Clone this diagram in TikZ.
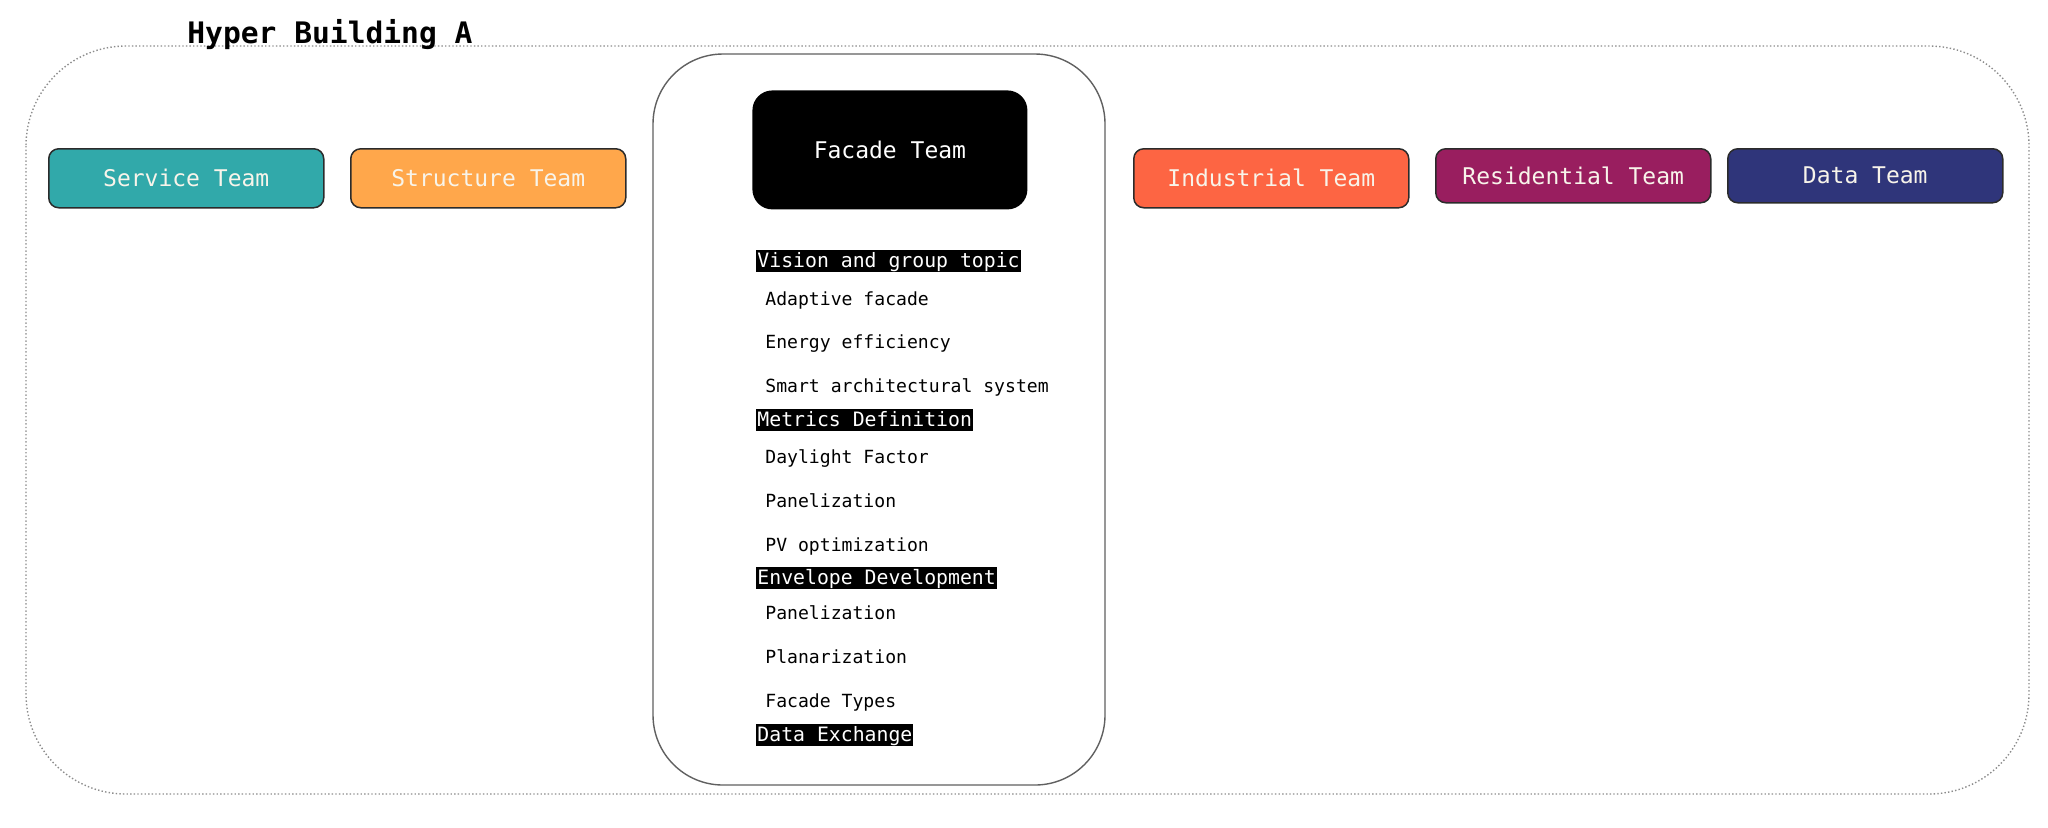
\documentclass[tikz,border=0pt]{standalone}
\usepackage{fontspec}
\newfontfamily\mono{DejaVu Sans Mono}
\definecolor{cService}{HTML}{31A9AA}
\definecolor{cStructure}{HTML}{FFA74B}
\definecolor{cIndustrial}{HTML}{FD6543}
\definecolor{cResidential}{HTML}{991E5F}
\definecolor{cData}{HTML}{2F357A}
\definecolor{cBoxText}{HTML}{F8F4EA}
\definecolor{cEdge}{HTML}{2B2B2B}
\tikzset{
  team/.style={draw=cEdge, line width=0.75pt, rounded corners=5pt, anchor=north west,
    minimum width=137.5pt, inner sep=0pt, text=cBoxText,
    font=\mono\fontsize{11.5pt}{13pt}\selectfont},
  header/.style={fill=black, text=white, anchor=north west, inner xsep=0.5pt, inner ysep=0pt,
    text height=8.6pt, text depth=2.4pt, font=\mono\fontsize{9.9pt}{11pt}\selectfont},
  item/.style={anchor=base west, inner sep=0pt, font=\mono\fontsize{9.05pt}{11pt}\selectfont},
}
\begin{document}
\begin{tikzpicture}[x=0.5pt,y=-0.5pt]
\useasboundingbox (0,0) rectangle (2048,827);
% outer dotted frame
\draw[gray!90, line width=0.7pt, dash pattern=on 0.7pt off 1.1pt, rounded corners=50pt]
  (26,46) rectangle (2029,794);
\node[anchor=base west, inner sep=0pt, font=\mono\bfseries\fontsize{14.8pt}{17pt}\selectfont]
  (title) at (187,43) {Hyper Building A};
% facade container
\draw[gray!75!black, line width=0.7pt, rounded corners=35pt] (653,54) rectangle (1105,785);
\node[fill=black, rounded corners=10pt, anchor=north west, minimum width=137.5pt, minimum height=59.5pt,
  inner sep=0pt, text=white, font=\mono\fontsize{11.5pt}{13pt}\selectfont]
  (facade) at (752,90) {Facade Team};
% team boxes
\node[team, fill=cService, minimum height=29.5pt] (service) at (48,148) {Service Team};
\node[team, fill=cStructure, minimum height=29.5pt] (structure) at (350,148) {Structure Team};
\node[team, fill=cIndustrial, minimum height=29.5pt] (industrial) at (1133,148) {Industrial Team};
\node[team, fill=cResidential, minimum height=27pt] (residential) at (1435,148) {Residential Team};
\node[team, fill=cData, minimum height=27pt] (data) at (1727,148) {Data Team};
% list
\node[header] (h1) at (756,249.5) {Vision and group topic};
\node[item] (i1) at (765,305) {Adaptive facade};
\node[item] (i2) at (765,348) {Energy efficiency};
\node[item] (i3) at (765,392) {Smart architectural system};
\node[header] (h2) at (756,408.5) {Metrics Definition};
\node[item] (i4) at (765,463) {Daylight Factor};
\node[item] (i5) at (765,507) {Panelization};
\node[item] (i6) at (765,551) {PV optimization};
\node[header] (h3) at (756,566.5) {Envelope Development};
\node[item] (i7) at (765,619) {Panelization};
\node[item] (i8) at (765,663) {Planarization};
\node[item] (i9) at (765,707) {Facade Types};
\node[header] (h4) at (756,723.5) {Data Exchange};
\end{tikzpicture}
\end{document}
